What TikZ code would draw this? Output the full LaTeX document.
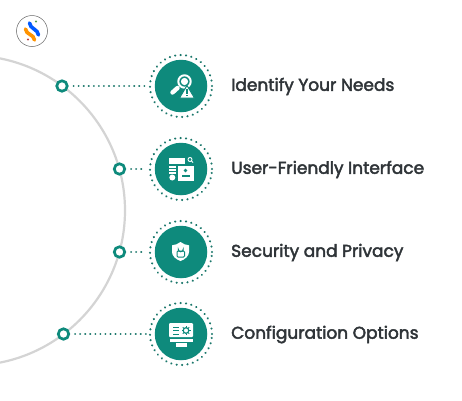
\documentclass[tikz,border=0pt]{standalone}
\usepackage{fontspec}
\setmainfont{Poppins}[FakeBold=2.6]
\definecolor{teal1}{HTML}{0E8A7C}
\definecolor{tealdk}{HTML}{1A776B}
\definecolor{arcg}{HTML}{D4D4D4}
\definecolor{txt}{HTML}{2F3438}
\tikzset{
  x=1pt,y=-1pt,
  disc/.style={circle,fill=teal1,minimum size=52.5pt,inner sep=0pt},
  ring/.style={circle,draw=tealdk,line width=2.3pt,dash pattern=on 0.05pt off 5.4pt,line cap=round,minimum size=62pt,inner sep=0pt},
  pin/.style={circle,draw=teal1,line width=2.7pt,fill=white,minimum size=10.5pt,inner sep=0pt},
  link/.style={draw=tealdk,line width=2.1pt,dash pattern=on 0.05pt off 5pt,line cap=round},
  lab/.style={anchor=west,font=\fontsize{17}{19}\selectfont,text=txt,inner sep=0pt},
}
\begin{document}
\begin{tikzpicture}
\useasboundingbox (0,0) rectangle (462,400);
\fill[white] (0,0) rectangle (462,400);
% big arc
\begin{scope}
\clip (0,0) rectangle (462,400);
\draw[arcg,line width=2.2pt] (-30,210.5) circle[radius=155];
\end{scope}
% logo
\node[circle,draw=black!60,line width=.5pt,fill=white,minimum size=31pt,inner sep=0pt] (logo) at (32,31) {};
\draw[line width=3.6pt,color=blue!65!cyan,line cap=round] (29.5,23) .. controls (30,29) and (38,29) .. (38.5,35);
\draw[line width=3.6pt,color=orange!85!yellow,line cap=round] (25.5,29) .. controls (26,35) and (34,34) .. (34.5,40);
\fill[green!45!black!70] (36,21.5) circle[radius=1.2];
\fill[red!50!gray] (28,39.5) circle[radius=1.2];
% rows
\foreach \n/\y/\px/\t in {a/86/62/Identify Your Needs,b/169/119.5/User-Friendly Interface,c/252/119.5/Security and Privacy,d/334/63.5/Configuration Options}{
  \node[ring] (r\n) at (181,\y) {};
  \node[disc] (c\n) at (181,\y) {};
  \node[pin] (p\n) at (\px,\y) {};
  \draw[link] ([xshift=5pt]p\n.east) -- ([xshift=-3pt]r\n.west);
  \node[lab] (t\n) at (231,\y+0.5) {\t};
}
% icon 1: magnifier + warning
\draw[white,line width=2pt] (184.5,81.5) circle[radius=6.2];
\fill[white] (184.5,81.5) circle[radius=3.6];
\draw[white,line width=4.4pt,line cap=round] (172.5,92.5) -- (177.5,88);
\fill[white,draw=teal1,line width=1pt] (187,85.5) -- (194.5,98) -- (179.5,98) -- cycle;
\fill[teal1] (186.4,89) rectangle (187.6,93.5);
\fill[teal1] (186.4,94.5) rectangle (187.6,96);
% icon 2
\fill[white] (169,158) rectangle (185,163.5);
\draw[white,line width=.9pt] (190,159.5) circle[radius=2];
\draw[white,line width=.9pt] (191.5,161) -- (193,162.5);
\foreach \yy in {166,169,172}{\fill[white] (169,\yy) rectangle (176,\yy+1.6);}
\fill[white] (172.3,177.5) circle[radius=3];
\fill[white] (178,165.5) rectangle (193.5,181);
\fill[teal1] (185.5,170.5) circle[radius=1.8];
\fill[teal1] (181.5,177) rectangle (189.5,174.5);
% icon 3: shield with lock
\fill[white] (180.5,242) .. controls (183,244) and (186,245) .. (189,245.3) -- (189,252) .. controls (189,256) and (185,259.5) .. (180.5,261) .. controls (176,259.5) and (172,256) .. (172,252) -- (172,245.3) .. controls (175,245) and (178,244) .. (180.5,242) -- cycle;
\draw[teal1,line width=1pt,rounded corners=1pt] (177,251) rectangle (184.5,257);
\draw[teal1,line width=1pt] (178.3,251) -- (178.3,249.3) arc[start angle=180,end angle=0,radius=2.45] -- (183.2,251);
% icon 4: monitor
\fill[white,rounded corners=1pt] (169,323) rectangle (193,337);
\fill[white] (170,338.5) rectangle (193,342);
\fill[white] (176,343.2) rectangle (186.5,346.5);
\draw[teal1,line width=.8pt] (173,327) -- (179,327) (173,330.5) -- (179,330.5) (173,334) -- (179,334);
\draw[teal1,line width=1.2pt] (186,330.5) circle[radius=2.8];
\foreach \a in {0,45,...,315}{\draw[teal1,line width=1pt] (186,330.5) ++(\a:3) -- ++(\a:1.5);}
\end{tikzpicture}
\end{document}
